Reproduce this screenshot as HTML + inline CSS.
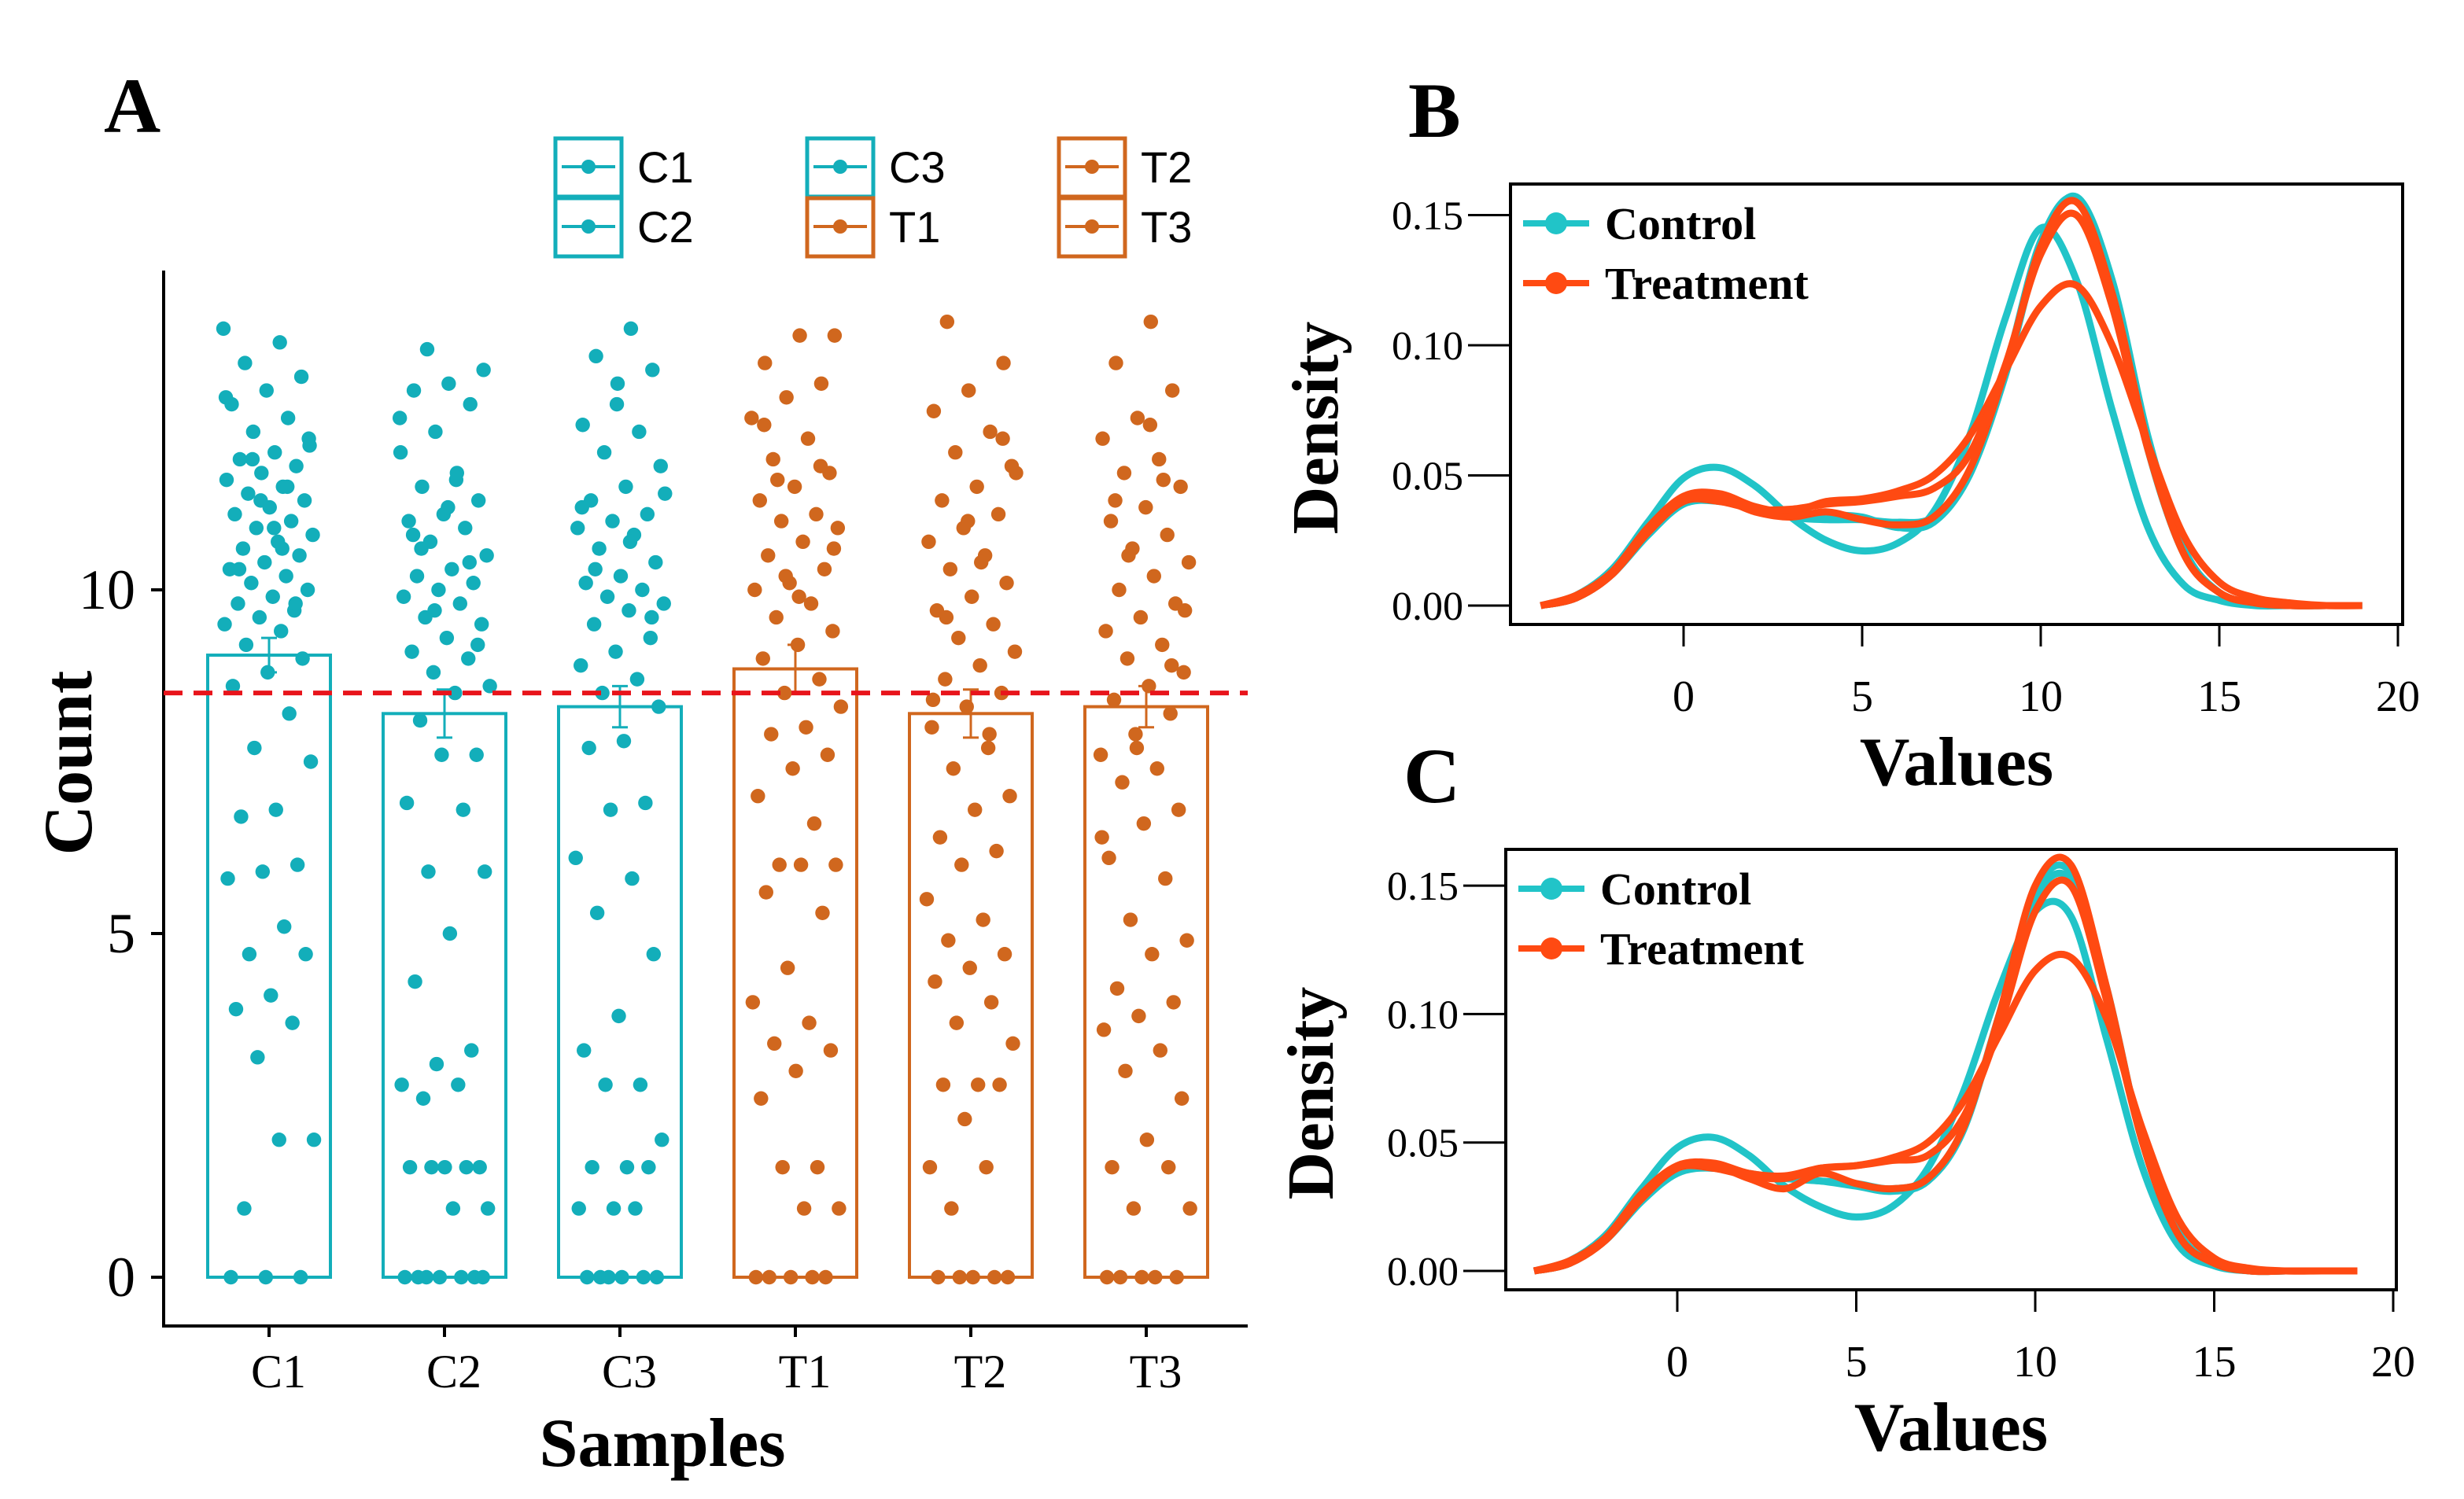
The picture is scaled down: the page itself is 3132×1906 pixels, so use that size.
<!DOCTYPE html>
<html><head><meta charset="utf-8"><style>html,body{margin:0;padding:0;background:#fff}svg{display:block}</style></head>
<body>
<svg id="fig" width="3132" height="1906" viewBox="0 0 1566 953" xmlns="http://www.w3.org/2000/svg" font-family="Liberation Serif, serif">
<g id="panelA"></g>
<g id="panelB"></g>
<g id="panelC"></g>
</svg>
<script>
// ---------- Panel A data ----------
const samples = ["C1","C2","C3","T1","T2","T3"];
const barMeans = [9.05, 8.2, 8.3, 8.85, 8.2, 8.3];
const barErr = [0.25, 0.35, 0.3, 0.35, 0.35, 0.3];
const refLine = 8.5;
const yTicksA = [0,5,10];
const ptsC1 = [13.8,13.6,13.3,13.1,12.9,12.7,12.5,12.3,12.1,12,11.9,11.8,11.7,11.6,11.5,11.4,11.3,11.2,11.1,11,10.9,10.8,10.7,10.6,10.5,10.4,10.3,10.2,10.1,10,9.9,9.8,9.7,9.6,9.5,9.4,9.2,9,8.8,8.6,8.2,7.7,7.5,6.8,6.7,6,5.9,5.8,5.1,4.7,4.7,4.1,3.9,3.7,3.2,2,2,1,0,0,0,11.5,11.9,12.2,10.9,10.3,9.8,11.3,12.8,10.6];
const ptsC2 = [13.5,13.2,13,12.9,12.7,12.3,12,11.7,11.5,11.3,11.1,11,10.9,10.7,10.5,10.3,10.2,10.1,10,9.9,9.8,9.6,9.5,9.3,9.1,9,8.8,8.6,8.5,8.1,7.6,7.6,6.9,6.8,5.9,5.9,5,4.3,3.3,3.1,2.8,2.8,2.6,1.6,1.6,1.6,1.6,1.6,1,1,0,0,0,0,0,0,0,11.2,10.8,10.4,9.7,12.5,11.6,10.6,9.2];
const ptsC3 = [13.8,13.4,13.2,13,12.4,12.3,12,11.8,11.5,11.3,11.1,11,10.9,10.8,10.6,10.4,10.2,10.1,10,9.9,9.8,9.7,9.5,9.3,9.1,8.9,8.7,8.5,8.3,7.8,7.7,6.9,6.8,6.1,5.8,5.3,4.7,3.8,3.3,2.8,2.8,2,1.6,1.6,1.6,1,1,1,0,0,0,0,0,0,11.4,10.7,10.3,9.6,12.7,11.2];
const ptsT1 = [13.7,13.7,13.3,13,12.8,12.5,12.2,11.9,11.7,11.5,11.3,11.1,11,10.9,10.7,10.5,10.3,10.1,10,9.8,9.6,9.4,9.2,9,8.7,8.5,8.3,8,7.9,7.6,7.4,7,6.6,6,6,6,5.6,5.3,4.5,4,3.7,3.4,3.3,3,2.6,1.6,1.6,1,1,0,0,0,0,0,11.6,10.6,9.9,12.4,11.8,10.2];
const ptsT2 = [13.9,13.3,12.9,12.6,12.3,12,11.8,11.5,11.3,11.1,10.9,10.7,10.5,10.3,10.1,9.9,9.7,9.5,9.3,9.1,8.9,8.7,8.5,8.3,8,7.7,7.4,7,6.8,6.4,6.2,6,5.5,5.2,4.9,4.7,4.5,4.3,4,3.7,3.4,2.8,2.8,2.8,2.3,1.6,1.6,1,0,0,0,0,0,11.7,10.4,9.6,12.2,11,8.4,7.9];
const ptsT3 = [13.9,13.3,12.9,12.5,12.2,11.9,11.7,11.5,11.2,11,10.8,10.6,10.4,10.2,10,9.8,9.6,9.4,9.2,9,8.8,8.6,8.4,8.2,7.9,7.6,7.4,7.2,6.8,6.6,6.1,5.8,5.2,4.9,4.7,4.2,4,3.8,3.6,3.3,3,2.6,2,1.6,1.6,1,1,0,0,0,0,0,11.6,10.5,9.7,12.4,11.3,8.9,7.7,6.4];
const ptsAll = [ptsC1,ptsC2,ptsC3,ptsT1,ptsT2,ptsT3];

// ---------- Panel B/C data ----------
const densX = [-4,-3,-2,-1,0,1,2,3,4,5,6,7,8,9,10,11,12,13,14,15,16,17,18,19];
const bCtrl1 = [0,0.004,0.014,0.032,0.049,0.053,0.046,0.034,0.025,0.021,0.024,0.036,0.065,0.11,0.145,0.125,0.075,0.03,0.008,0.002,0,0,0,0];
const bCtrl2 = [0,0.003,0.012,0.028,0.04,0.041,0.038,0.034,0.033,0.033,0.032,0.034,0.05,0.09,0.14,0.156,0.12,0.06,0.02,0.005,0.001,0,0,0];
const bCtrl3 = [0,0.003,0.012,0.027,0.039,0.04,0.037,0.036,0.035,0.034,0.03,0.032,0.05,0.088,0.138,0.157,0.125,0.065,0.022,0.005,0.001,0,0,0];
const bTrt1 = [0,0.004,0.013,0.03,0.042,0.043,0.038,0.036,0.04,0.041,0.044,0.05,0.065,0.09,0.115,0.123,0.1,0.062,0.027,0.009,0.003,0.001,0,0];
const bTrt2 = [0,0.003,0.012,0.028,0.04,0.041,0.036,0.034,0.036,0.033,0.031,0.034,0.052,0.09,0.138,0.155,0.12,0.062,0.02,0.005,0.001,0,0,0];
const bTrt3 = [0,0.003,0.012,0.028,0.04,0.04,0.037,0.037,0.039,0.04,0.042,0.045,0.058,0.092,0.135,0.15,0.115,0.06,0.02,0.005,0.001,0,0,0];
const cCtrl1 = [0,0.004,0.014,0.032,0.048,0.052,0.045,0.033,0.025,0.021,0.025,0.04,0.07,0.11,0.14,0.138,0.09,0.04,0.01,0.002,0,0,0,0];
const cCtrl2 = [0,0.003,0.012,0.027,0.039,0.04,0.038,0.036,0.035,0.033,0.031,0.035,0.055,0.1,0.148,0.155,0.11,0.05,0.015,0.003,0,0,0,0];
const cCtrl3 = [0,0.003,0.012,0.027,0.038,0.04,0.037,0.036,0.035,0.034,0.032,0.036,0.056,0.1,0.145,0.152,0.108,0.05,0.015,0.003,0,0,0,0];
const cTrt1 = [0,0.004,0.013,0.03,0.041,0.042,0.038,0.037,0.04,0.041,0.044,0.05,0.066,0.092,0.117,0.122,0.098,0.055,0.02,0.005,0.001,0,0,0];
const cTrt2 = [0,0.003,0.012,0.028,0.04,0.041,0.036,0.032,0.038,0.034,0.032,0.036,0.056,0.1,0.15,0.158,0.11,0.05,0.014,0.003,0,0,0,0];
const cTrt3 = [0,0.003,0.012,0.028,0.04,0.04,0.037,0.036,0.04,0.041,0.043,0.045,0.06,0.095,0.14,0.15,0.105,0.05,0.014,0.003,0,0,0,0];
const densXTicks = [0,5,10,15,20];
const densYTicks = [0,0.05,0.10,0.15];
const densYLabels = ["0.00","0.05","0.10","0.15"];

const NS="http://www.w3.org/2000/svg";
function mk(parent,tag,attrs,text){const e=document.createElementNS(NS,tag);for(const k in attrs)e.setAttribute(k,attrs[k]);if(text!==undefined)e.textContent=text;parent.appendChild(e);return e;}

const CYAN="#13AEBA", ORNG="#D0671E";
// ---- Panel A ----
const A=document.getElementById('panelA');
const yA=v=>812-v*43.7;
const bandX=i=>171+i*111.5;
let t;
t=mk(A,'text',{x:66,y:84,'font-size':50,'font-weight':'bold'},'A');

let ax=mk(A,'path',{d:'M104,172 V843 H793',stroke:'#000','stroke-width':2,fill:'none'});

yTicksA.forEach(v=>{
 let l=mk(A,'line',{x1:96,x2:104,y1:yA(v),y2:yA(v),stroke:'#000','stroke-width':2});
 
 let tx=mk(A,'text',{x:86,y:yA(v)+12,'font-size':36,'text-anchor':'end'},String(v));
 
});
t=mk(A,'text',{x:0,y:0,'font-size':44,'font-weight':'bold','text-anchor':'middle',transform:'translate(58,485) rotate(-90)'},'Count');

t=mk(A,'text',{x:421,y:932,'font-size':44,'font-weight':'bold','text-anchor':'middle'},'Samples');

samples.forEach((s,i)=>{
 const c=i<3?CYAN:ORNG, cx=bandX(i);
 let b=mk(A,'rect',{x:cx-39,y:yA(barMeans[i]),width:78,height:yA(0)-yA(barMeans[i]),fill:'none',stroke:c,'stroke-width':2});
 
 let e=mk(A,'path',{d:`M${cx},${yA(barMeans[i]+barErr[i])}V${yA(barMeans[i]-barErr[i])}M${cx-5},${yA(barMeans[i]+barErr[i])}h10M${cx-5},${yA(barMeans[i]-barErr[i])}h10`,stroke:c,'stroke-width':1.5,fill:'none'});
 
 ptsAll[i].forEach((v,j)=>{
  const off=(((j*0.6180339+i*0.31)%1)-0.5)*58;
  let p=mk(A,'circle',{cx:cx+off,cy:yA(v),r:4.6,fill:c});
  
 });
 let tk=mk(A,'line',{x1:cx,x2:cx,y1:843,y2:850,stroke:'#000','stroke-width':2});
 
 let tl=mk(A,'text',{x:cx+6,y:882,'font-size':30,'text-anchor':'middle'},s);
 
});
let rl=mk(A,'line',{x1:104,x2:793,y1:yA(refLine),y2:yA(refLine),stroke:'#E8141B','stroke-width':3,'stroke-dasharray':'12,7'});

const legA=[["C1",353,88,CYAN],["C2",353,126,CYAN],["C3",513,88,CYAN],["T1",513,126,ORNG],["T2",673,88,ORNG],["T3",673,126,ORNG]];
legA.forEach(([n,x,y,c])=>{
 const g=mk(A,'g',{});
 mk(g,'rect',{x:x,y:y,width:42,height:37,fill:'none',stroke:c,'stroke-width':2.5});
 mk(g,'line',{x1:x+4,x2:x+38,y1:y+18,y2:y+18,stroke:c,'stroke-width':2});
 mk(g,'circle',{cx:x+21,cy:y+18,r:4.5,fill:c});
 mk(g,'text',{x:x+52,y:y+28,'font-size':28,'font-family':'Liberation Sans, sans-serif'},n);
});

// ---- Density panels ----
function smoothPath(pts){let d=`M${pts[0][0]},${pts[0][1]}`;for(let i=0;i<pts.length-1;i++){const p0=pts[Math.max(0,i-1)],p1=pts[i],p2=pts[i+1],p3=pts[Math.min(pts.length-1,i+2)];d+=` C${p1[0]+(p2[0]-p0[0])/6},${p1[1]+(p2[1]-p0[1])/6} ${p2[0]-(p3[0]-p1[0])/6},${p2[1]-(p3[1]-p1[1])/6} ${p2[0]},${p2[1]}`;}return d;}
function density(G,cfg,ctrls,trts,letter){
 const xs=v=>cfg.x0+v*cfg.kx, ys=v=>cfg.y0-v*cfg.ky;
 let r=mk(G,'rect',{x:cfg.L,y:cfg.T,width:cfg.R-cfg.L,height:cfg.B-cfg.T,fill:'none',stroke:'#000','stroke-width':2});
 
 let lb=mk(G,'text',{x:cfg.L-65,y:cfg.T-30,'font-size':50,'font-weight':'bold'},letter);
 
 densYTicks.forEach((v,i)=>{
  let l=mk(G,'line',{x1:cfg.L-27,x2:cfg.L,y1:ys(v),y2:ys(v),stroke:'#000','stroke-width':1.5});
  
  let tx=mk(G,'text',{x:cfg.L-30,y:ys(v)+9,'font-size':26,'text-anchor':'end'},densYLabels[i]);
  
 });
 densXTicks.forEach(v=>{
  let l=mk(G,'line',{x1:xs(v),x2:xs(v),y1:cfg.B,y2:cfg.B+14,stroke:'#000','stroke-width':1.5});
  
  let tx=mk(G,'text',{x:xs(v),y:cfg.B+55,'font-size':28,'text-anchor':'middle'},String(v));
  
 });
 let yt=mk(G,'text',{x:0,y:0,'font-size':42,'font-weight':'bold','text-anchor':'middle',transform:`translate(${cfg.L-110},${(cfg.T+cfg.B)/2+15}) rotate(-90)`},'Density');
 
 let xt=mk(G,'text',{x:(cfg.L+cfg.R)/2,y:cfg.B+102,'font-size':44,'font-weight':'bold','text-anchor':'middle'},'Values');
 
 const draw=(arr,col,nm)=>{let p=mk(G,'path',{d:smoothPath(densX.map((x,i)=>[xs(x),ys(arr[i])])),fill:'none',stroke:col,'stroke-width':4.5});};
 ctrls.forEach(a=>draw(a,'#21C4C8','control-curve'));
 trts.forEach(a=>draw(a,'#FF4A12','treatment-curve'));
 let lg=mk(G,'rect',{x:cfg.L+1,y:cfg.T+1,width:160,height:78,fill:'#fff'});
 
 [['Control','#21C4C8',25],['Treatment','#FF4A12',63]].forEach(([n,c,dy])=>{
  const g=mk(G,'g',{});
  mk(g,'line',{x1:cfg.L+8,x2:cfg.L+50,y1:cfg.T+dy,y2:cfg.T+dy,stroke:c,'stroke-width':4});
  mk(g,'circle',{cx:cfg.L+29,cy:cfg.T+dy,r:7,fill:c});
  mk(g,'text',{x:cfg.L+60,y:cfg.T+dy+10,'font-size':29,'font-weight':'bold'},n);
 });
}
density(document.getElementById('panelB'),{L:960,R:1527,T:117,B:397,x0:1070,kx:22.7,y0:385,ky:1655},[bCtrl1,bCtrl2,bCtrl3],[bTrt1,bTrt2,bTrt3],'B');
density(document.getElementById('panelC'),{L:957,R:1523,T:540,B:820,x0:1066,kx:22.75,y0:808,ky:1633},[cCtrl1,cCtrl2,cCtrl3],[cTrt1,cTrt2,cTrt3],'C');
</script>
</body></html>
